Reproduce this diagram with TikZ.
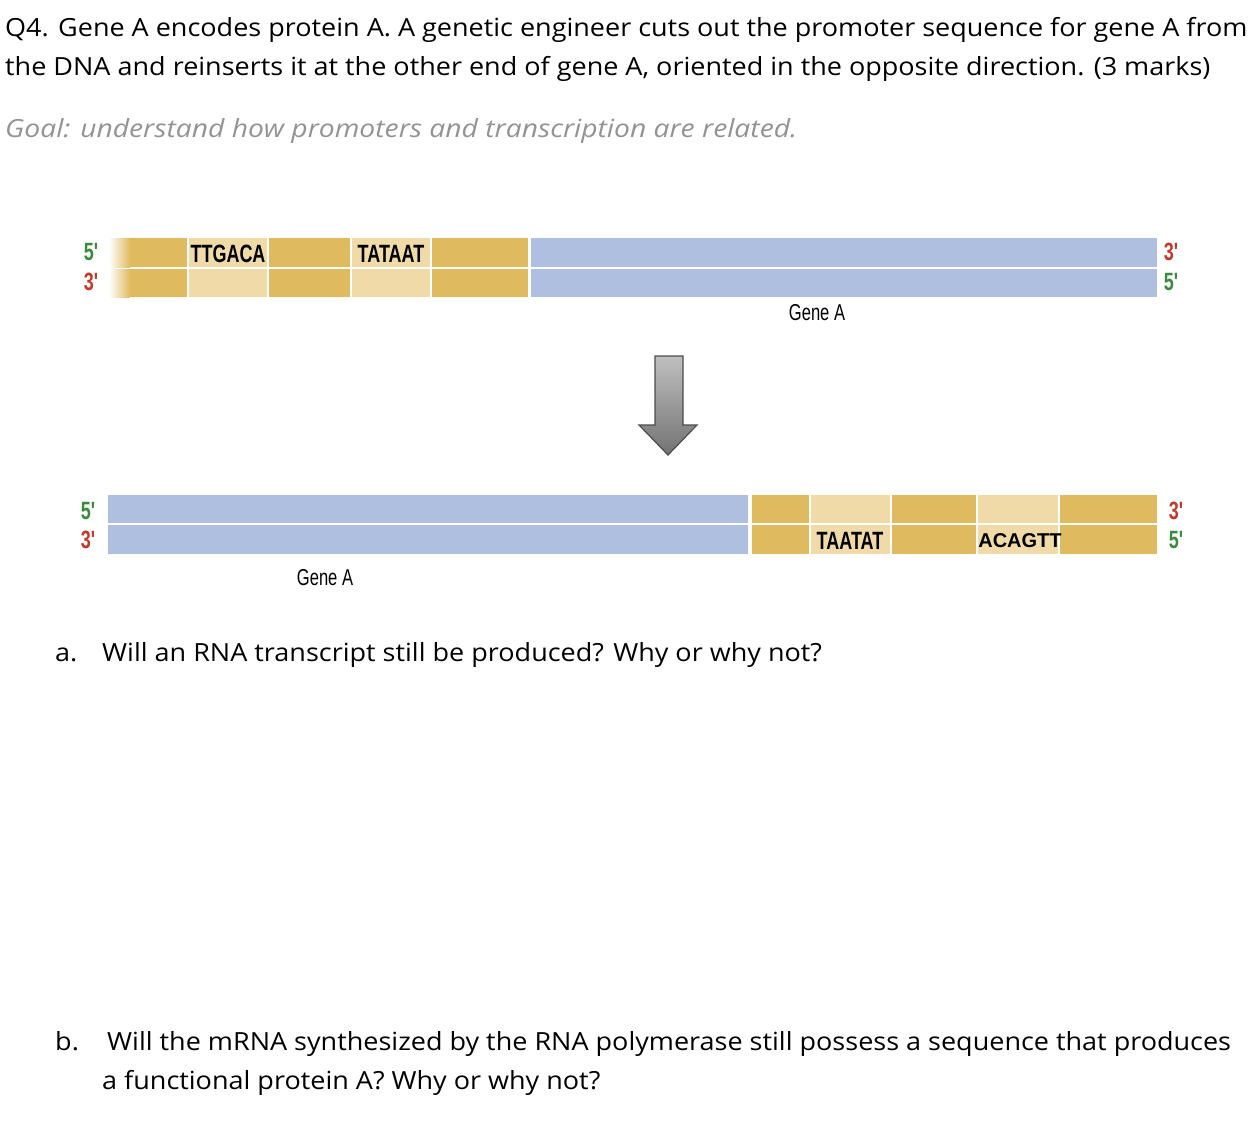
\documentclass[tikz,border=0pt]{standalone}
\usepackage{fontspec}
\setmainfont{Open Sans}[FakeStretch=1.08]
\newfontfamily\goalfont{Open Sans}[FakeStretch=1.13]
\newfontfamily\dnafont{Liberation Sans}
\usepackage{graphicx}
\definecolor{gold}{HTML}{E0BA5E}
\definecolor{lgold}{HTML}{F0DBA8}
\definecolor{blu}{HTML}{AFBFE0}
\definecolor{gr5}{HTML}{3A8A3C}
\definecolor{rd3}{HTML}{C0392B}
\tikzset{
 body/.style={font=\fontsize{25}{29}\selectfont, anchor=base west, inner sep=0},
 seq/.style={font=\dnafont\bfseries\fontsize{25}{26}\selectfont, inner sep=0},
 gl/.style={font=\dnafont\fontsize{23}{24}\selectfont, inner sep=0},
 endl/.style={font=\dnafont\bfseries\fontsize{25}{26}\selectfont, inner sep=0},
}
\newcommand{\cond}[1]{\scalebox{0.72}[1]{#1}}
\begin{document}
\begin{tikzpicture}[x=1pt,y=-1pt]
\useasboundingbox (0,0) rectangle (1254,1148);
\node[body] (t1) at (5,37) {Q4. Gene A encodes protein A. A genetic engineer cuts out the promoter sequence for gene A from};
\node[body] (t2) at (5,76) {the DNA and reinserts it at the other end of gene A, oriented in the opposite direction. (3 marks)};
\node[body, text=gray!85, font=\goalfont\itshape\fontsize{25}{29}\selectfont] (goal) at (5,137) {Goal: understand how promoters and transcription are related.};
% top DNA
\foreach \ya/\yb in {238/267,269/297}{
 \fill[gold] (110,\ya) rectangle (187,\yb);
 \fill[lgold] (189,\ya) rectangle (267,\yb);
 \fill[gold] (269,\ya) rectangle (350,\yb);
 \fill[lgold] (352,\ya) rectangle (430,\yb);
 \fill[gold] (432,\ya) rectangle (528,\yb);
 \fill[blu] (531,\ya) rectangle (1157,\yb);
 \shade[left color=white, right color=gold] (109,\ya) rectangle (130,\yb);
}
\node[seq] (s1) at (228,254) {\cond{TTGACA}};
\node[seq] (s2) at (391,254) {\cond{TATAAT}};
\node[endl, text=gr5] (a5) at (91,252) {\cond{5'}};
\node[endl, text=rd3] (a3) at (91,282) {\cond{3'}};
\node[endl, text=rd3] (b3) at (1171,252) {\cond{3'}};
\node[endl, text=gr5] (b5) at (1171,282) {\cond{5'}};
\node[gl] (g1) at (817,313) {\cond{Gene A}};
% arrow
\shade[top color=gray!50, bottom color=gray!90!black, draw=black!70, line width=1.2pt]
 (655,356) -- (683,356) -- (683,425) -- (697,425) -- (668,455) -- (639,425) -- (655,425) -- cycle;
% bottom DNA
\foreach \ya/\yb in {495/523,525/554}{
 \fill[blu] (108,\ya) rectangle (748,\yb);
 \fill[gold] (752,\ya) rectangle (809,\yb);
 \fill[lgold] (811,\ya) rectangle (890,\yb);
 \fill[gold] (892,\ya) rectangle (976,\yb);
 \fill[lgold] (978,\ya) rectangle (1058,\yb);
 \fill[gold] (1060,\ya) rectangle (1157,\yb);
}
\node[seq] (s3) at (850,541) {\cond{TAATAT}};
\node[seq, font=\dnafont\bfseries\fontsize{20}{24}\selectfont] (s4) at (1020,541) {ACAGTT};
\node[endl, text=gr5] (c5) at (88,511) {\cond{5'}};
\node[endl, text=rd3] (c3) at (88,540) {\cond{3'}};
\node[endl, text=rd3] (d3) at (1176,511) {\cond{3'}};
\node[endl, text=gr5] (d5) at (1176,540) {\cond{5'}};
\node[gl] (g2) at (325,578) {\cond{Gene A}};
% questions
\node[body] (qa) at (55,661) {a.};
\node[body] (qat) at (102,661) {Will an RNA transcript still be produced? Why or why not?};
\node[body] (qb) at (55,1050) {b.};
\node[body] (qbt) at (107,1050) {Will the mRNA synthesized by the RNA polymerase still possess a sequence that produces};
\node[body] (qbt2) at (102,1089) {a functional protein A? Why or why not?};
\end{tikzpicture}
\end{document}
